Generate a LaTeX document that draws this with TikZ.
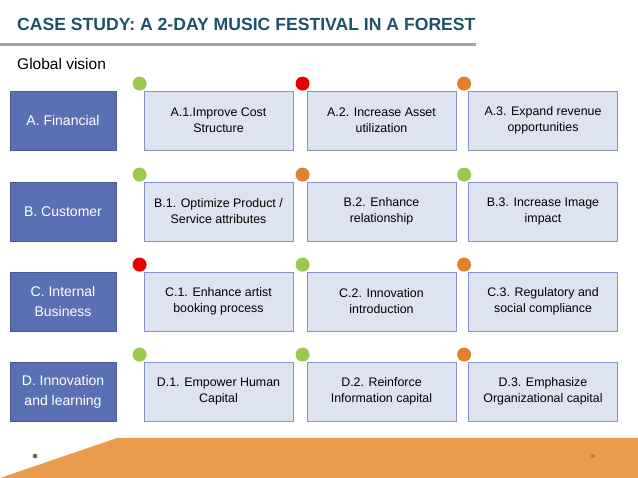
\documentclass[tikz,border=0pt]{standalone}
\usepackage{fontspec}
\setmainfont{Liberation Sans}
\definecolor{ttl}{HTML}{1F5266}
\definecolor{lbox}{HTML}{5B70B4}
\definecolor{rbox}{HTML}{DEE3F1}
\definecolor{rbord}{HTML}{8594C4}
\definecolor{dgreen}{HTML}{9CC84E}
\definecolor{dred}{HTML}{E60000}
\definecolor{dorange}{HTML}{E4802A}
\definecolor{band}{HTML}{EA9C4E}
\begin{document}
\begin{tikzpicture}[x=1pt,y=-1pt,
  lb/.style={draw=lbox!80!black,line width=0.6pt,fill=lbox,text=white,minimum width=106pt,minimum height=59pt,align=center,font=\fontsize{14}{20}\selectfont,inner sep=0pt},
  rb/.style={draw=rbord,line width=0.8pt,fill=rbox,minimum width=149pt,minimum height=59pt,align=center,font=\fontsize{12.4}{16}\selectfont,inner sep=0pt},
  dot/.style={circle,inner sep=0pt,minimum size=14pt}]
\useasboundingbox (0,0) rectangle (638,478);
\fill[white] (0,0) rectangle (638,478);
\node[anchor=west,text=ttl,font=\bfseries\fontsize{17.6}{20}\selectfont,inner sep=0pt] (title) at (17,24) {CASE STUDY: A 2-DAY MUSIC FESTIVAL IN A FOREST};
\fill[gray!70] (0,43) rectangle (476,46.5);
\node[anchor=west,font=\fontsize{15.5}{18}\selectfont,inner sep=0pt] (gv) at (17,64) {Global vision};
\fill[band] (0,478) -- (117,438) -- (638,438) -- (638,478) -- cycle;
\fill[gray!80!black] (35,456) circle (2.3);
\fill[band!80!black] (593,456) circle (2.3);
\foreach \y/\lab/\a/\b/\c/\ca/\cb/\cc/\n in {
 120.5/{A. Financial}/{A.1.Improve Cost\\Structure}/{A.2. Increase Asset\\utilization}/{A.3. Expand revenue\\opportunities}/dgreen/dred/dorange/A,
 211.5/{B. Customer}/{B.1. Optimize Product /\\Service attributes}/{B.2. Enhance\\relationship}/{B.3. Increase Image\\impact}/dgreen/dorange/dgreen/B,
 301.5/{C. Internal\\Business}/{C.1. Enhance artist\\booking process}/{C.2. Innovation\\introduction}/{C.3. Regulatory and\\social compliance}/dred/dgreen/dorange/C,
 391.5/{D. Innovation\\and learning}/{D.1. Empower Human\\Capital}/{D.2. Reinforce\\Information capital}/{D.3. Emphasize\\Organizational capital}/dgreen/dgreen/dorange/D}{
 \node[lb] (\n0) at (63,\y) {\lab};
 \node[rb] (\n1) at (218.5,\y) {\a};
 \node[rb] (\n2) at (381.5,\y) {\b};
 \node[rb] (\n3) at (543,\y) {\c};
 \node[dot,fill=\ca] (\n d1) at ([shift={(-4,-7)}]\n1.north west) {};
 \node[dot,fill=\cb] (\n d2) at ([shift={(-4,-7)}]\n2.north west) {};
 \node[dot,fill=\cc] (\n d3) at ([shift={(-4,-7)}]\n3.north west) {};
}
\end{tikzpicture}
\end{document}
